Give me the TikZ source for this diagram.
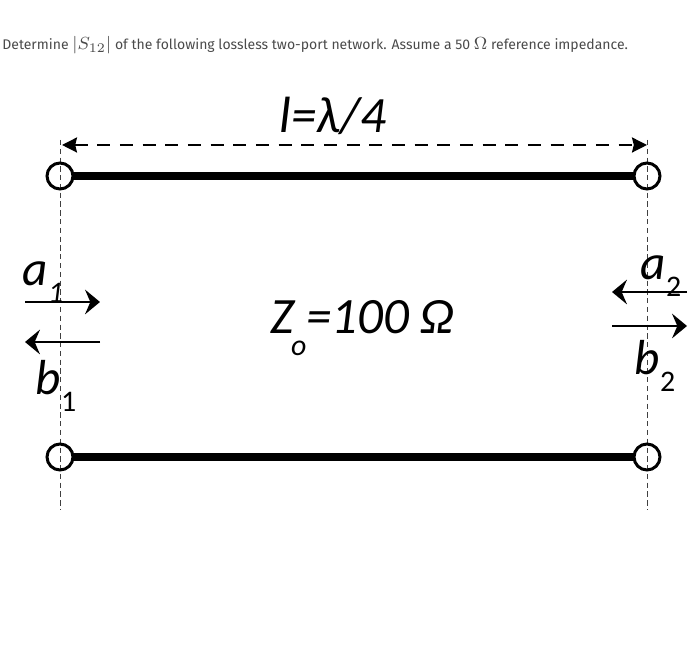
\documentclass[tikz,border=0pt]{standalone}
\usepackage{fontspec}
\setmainfont{Carlito}
\newfontfamily\headfont{Fira Sans}
\usetikzlibrary{arrows.meta}
\definecolor{headgray}{HTML}{4A4A4A}
\newcommand{\portlabel}[2]{\fontsize{28}{28}\selectfont\itshape #1\raisebox{-0.36em}{\fontsize{17}{17}\selectfont #2}}

\begin{document}
\begin{tikzpicture}[
	> = {Stealth[length = 8.5pt, width = 14pt, inset = 3pt]},
	port/.style = {circle, draw, line width = 1.7pt, minimum size = 0.52 cm, inner sep = 0},
	wire/.style = {line width = 5pt},
	flow/.style = {->, line width = 1.4pt},
	refplane/.style = {densely dashed, line width = 0.5pt, black!75},
	biglabel/.style = {inner sep = 0, font = \fontsize{29}{29}\selectfont\itshape}
]
	\useasboundingbox (0, 0) rectangle (14, 12.94);
	
	\node [anchor = west, inner sep = 0, text = headgray, font = \headfont\fontsize{7.97}{10}\selectfont] (title) at (0.04, 12.03) {Determine \scalebox{1.25}{$\vert S_{12}\vert$} of the following lossless two-port network. Assume a 50 \scalebox{1.25}{$\Omega$} reference impedance.};
	
	\draw [refplane] (1.2, 10.14) coordinate (planelefttop) -- (1.2, 2.74) coordinate (planeleftbot);
	\draw [refplane] (12.94, 10.14) coordinate (planerighttop) -- (12.94, 2.74) coordinate (planerightbot);
	
	\node [port] (topleft) at (1.2, 9.42) {};
	\node [port] (topright) at (12.94, 9.42) {};
	\node [port] (botleft) at (1.2, 3.8) {};
	\node [port] (botright) at (12.94, 3.8) {};
	
	\draw [wire] (topleft) -- (topright);
	\draw [wire] (botleft) -- (botright);
	
	\coordinate (lenleft) at (1.24, 10.04);
	\coordinate (lenright) at (12.94, 10.04);
	\draw [<->, > = {Stealth[length = 8.5pt, width = 8.5pt, inset = 1pt]}, dash pattern = on 7.5pt off 5.4pt, line width = 1.4pt] (lenleft) -- (lenright);
	\node [biglabel] (length) at (6.66, 10.62) {l=λ/4};
	
	\node [biglabel] (line) at (7.25, 6.38) {Z\hspace{-0.06em}\raisebox{-0.42em}{\fontsize{17}{17}\selectfont o}=100 Ω};
	
	\coordinate (aoneleft) at (0.5, 6.9);
	\coordinate (aoneright) at (2, 6.9);
	\coordinate (boneright) at (2, 6.1);
	\coordinate (boneleft) at (0.5, 6.1);
	\draw [flow] (aoneleft) -- (aoneright);
	\draw [flow] (boneright) -- (boneleft);
	\node [inner sep = 0] (aone) at (0.86, 7.3) {\portlabel{a}{1}};
	\node [inner sep = 0] (bone) at (1.12, 5.22) {\portlabel{b}{\upshape 1}};
	
	\coordinate (atworight) at (13.74, 7.1);
	\coordinate (atwoleft) at (12.24, 7.1);
	\coordinate (btwoleft) at (12.24, 6.42);
	\coordinate (btworight) at (13.74, 6.42);
	\draw [flow] (atworight) -- (atwoleft);
	\draw [flow] (btwoleft) -- (btworight);
	\node [inner sep = 0] (atwo) at (13.22, 7.42) {\portlabel{a}{\upshape 2}};
	\node [inner sep = 0] (btwo) at (13.1, 5.62) {\portlabel{b}{\upshape 2}};
\end{tikzpicture}
\end{document}
